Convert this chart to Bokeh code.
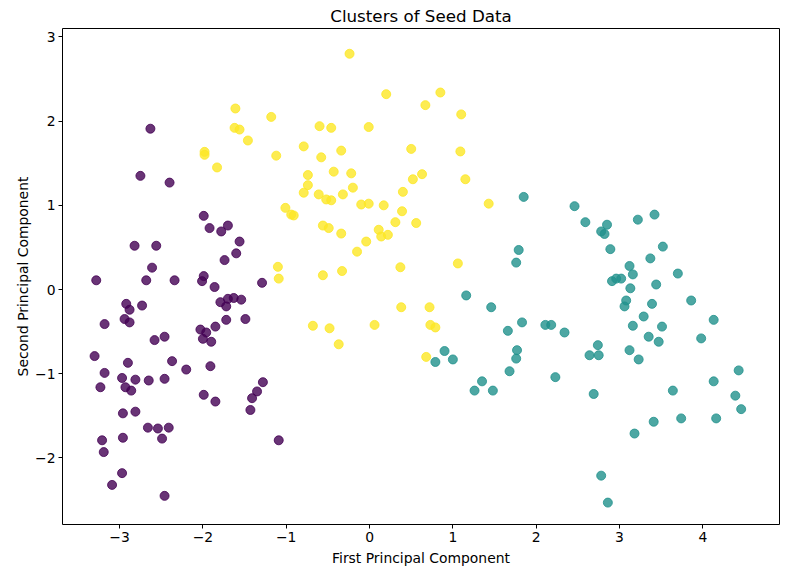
from bokeh.plotting import figure
from bokeh.models import Range1d, FixedTicker, ColumnDataSource, Spacer
from bokeh.layouts import row
from bokeh.embed import file_html
from bokeh.resources import INLINE

title_text = "Clusters of Seed Data"
x_label = "First Principal Component"
y_label = "Second Principal Component"
x_ticks = [-3, -2, -1, 0, 1, 2, 3, 4]
y_ticks = [-2, -1, 0, 1, 2, 3]

cluster0_x = [-2.63, -2.75, -2.40, -1.99, -1.92, -1.70, -1.78, -1.56, -1.60, -1.74,
              -2.82, -2.56, -2.61, -3.28, -2.68, -2.34, -1.99, -2.01, -1.86, -1.29,
              -2.92, -2.73, -1.79, -1.70, -1.63, -1.54, -1.72, -2.88, -2.94, -2.88,
              -3.18, -2.58, -2.46, -2.03, -1.96, -2.00, -1.90, -1.85, -1.72, -1.49,
              -3.30, -2.90, -2.37, -2.20, -1.91, -3.18, -2.97, -2.81, -2.65, -2.46,
              -3.23, -2.93, -2.86, -1.99, -1.85, -1.28, -1.35, -1.41, -1.43, -2.96,
              -2.81, -2.66, -2.54, -2.41, -2.49, -3.21, -3.19, -2.96, -2.97, -3.09,
              -2.46, -1.09]
cluster0_y = [1.91, 1.35, 1.27, 0.875, 0.73, 0.76, 0.69, 0.57, 0.43, 0.35,
              0.52, 0.52, 0.26, 0.11, 0.11, 0.11, 0.16, 0.10, 0.03, 0.08,
              -0.17, -0.19, -0.15, -0.11, -0.10, -0.12, -0.20, -0.24, -0.35, -0.39,
              -0.41, -0.60, -0.56, -0.475, -0.51, -0.585, -0.62, -0.44, -0.36, -0.35,
              -0.79, -0.87, -0.85, -0.95, -0.91, -0.99, -1.05, -1.07, -1.08, -1.06,
              -1.16, -1.16, -1.20, -1.25, -1.33, -1.10, -1.21, -1.29, -1.43, -1.47,
              -1.45, -1.64, -1.65, -1.64, -1.77, -1.79, -1.93, -1.76, -2.18, -2.32,
              -2.45, -1.79]

cluster1_x = [1.85, 2.46, 2.59, 2.85, 2.78, 2.82, 2.89, 1.79, 1.76, 2.91,
              2.96, 3.02, 1.16, 1.46, 1.83, 1.66, 2.11, 2.18, 2.34, 0.90,
              0.79, 1.00, 1.77, 1.76, 2.74, 2.64, 2.75, 1.68, 2.23, 1.35,
              1.26, 1.48, 2.69, 3.22, 3.42, 3.52, 3.37, 3.12, 3.16, 3.70,
              3.13, 3.44, 3.08, 3.06, 3.39, 3.86, 3.29, 3.16, 3.51, 4.13,
              3.35, 3.47, 3.98, 3.12, 3.23, 4.43, 4.13, 3.64, 4.39, 4.46,
              3.41, 3.74, 4.16, 3.18, 2.78, 2.86]
cluster1_y = [1.10, 0.99, 0.80, 0.77, 0.69, 0.66, 0.48, 0.47, 0.32, 0.10,
              0.13, 0.13, -0.07, -0.21, -0.39, -0.49, -0.42, -0.42, -0.51, -0.73,
              -0.86, -0.83, -0.72, -0.82, -0.66, -0.78, -0.78, -0.97, -1.04, -1.09,
              -1.20, -1.20, -1.24, 0.83, 0.89, 0.51, 0.37, 0.28, 0.18, 0.19,
              0.015, 0.06, -0.13, -0.20, -0.17, -0.13, -0.32, -0.43, -0.44, -0.36,
              -0.56, -0.62, -0.58, -0.72, -0.83, -0.96, -1.09, -1.20, -1.26, -1.42,
              -1.57, -1.53, -1.53, -1.71, -2.21, -2.53]

cluster2_x = [-0.24, -1.61, -1.18, -1.62, -1.56, -1.46, -0.60, -0.46, -0.01, -1.98,
              -1.98, -1.83, -1.12, -0.79, -0.58, -0.34, -0.74, -0.74, -0.79, -0.43,
              -0.22, -0.20, -0.32, -0.61, -0.52, -0.46, -0.10, -0.01, -1.01, -0.94,
              -0.91, -0.56, -0.49, 0.20, 0.85, 0.67, 1.10, 0.50, 1.09, 0.52,
              0.63, 1.15, 0.40, 0.17, 1.43, 0.39, 0.31, 0.56, 0.11, 0.14,
              0.22, -0.34, -0.04, -0.15, 1.06, -1.10, -1.09, -0.56, -0.33, 0.37,
              0.38, 0.72, 0.73, 0.79, -0.68, -0.48, 0.06, -0.37, 0.68]
cluster2_y = [2.80, 2.15, 2.05, 1.92, 1.90, 1.77, 1.94, 1.92, 1.93, 1.635,
              1.60, 1.45, 1.59, 1.70, 1.57, 1.65, 1.36, 1.24, 1.15, 1.40,
              1.38, 1.21, 1.13, 1.13, 1.07, 1.06, 1.01, 1.02, 0.97, 0.89,
              0.88, 0.76, 0.73, 2.32, 2.34, 2.19, 2.08, 1.67, 1.64, 1.31,
              1.37, 1.31, 1.16, 1.00, 1.02, 0.93, 0.80, 0.79, 0.71, 0.63,
              0.65, 0.665, 0.57, 0.45, 0.31, 0.27, 0.13, 0.17, 0.22, 0.265,
              -0.21, -0.21, -0.42, -0.45, -0.43, -0.46, -0.42, -0.65, -0.80]

colors = ["#440154", "#21918c", "#fde725"]
FONT = "DejaVu Sans"

p = figure(frame_width=717, frame_height=496,
           min_border_left=48, min_border_right=7, min_border_top=10, min_border_bottom=30,
           output_backend="svg", toolbar_location=None,
           x_range=Range1d(-3.685, 4.92), y_range=Range1d(-2.79, 3.10))

p.title.text = title_text
p.title.align = "center"
p.title.text_font = FONT
p.title.text_font_size = "16.7px"
p.title.text_font_style = "normal"
p.title.text_color = "black"
p.title.standoff = 6

for xs, ys, c in [(cluster0_x, cluster0_y, colors[0]),
                  (cluster1_x, cluster1_y, colors[1]),
                  (cluster2_x, cluster2_y, colors[2])]:
    src = ColumnDataSource(dict(x=xs, y=ys))
    p.scatter("x", "y", source=src, size=9, fill_color=c, line_color=c,
              fill_alpha=0.8, line_alpha=0.8)

p.xgrid.visible = False
p.ygrid.visible = False
p.outline_line_color = "black"
p.outline_line_width = 1
p.outline_line_alpha = 1

p.xaxis.ticker = FixedTicker(ticks=x_ticks)
p.yaxis.ticker = FixedTicker(ticks=y_ticks)
p.xaxis.major_label_overrides = {t: str(t).replace("-", "\u2212") for t in x_ticks}
p.yaxis.major_label_overrides = {t: str(t).replace("-", "\u2212") for t in y_ticks}
p.xaxis.axis_label = x_label
p.yaxis.axis_label = y_label

for ax in [p.xaxis[0], p.yaxis[0]]:
    ax.axis_line_color = None
    ax.major_tick_line_color = "black"
    ax.major_tick_out = 4
    ax.major_tick_in = 0
    ax.minor_tick_line_color = None
    ax.major_label_text_font = FONT
    ax.major_label_text_font_size = "13.9px"
    ax.major_label_text_color = "black"
    ax.major_label_standoff = 3
    ax.axis_label_text_font = FONT
    ax.axis_label_text_font_size = "13.9px"
    ax.axis_label_text_font_style = "normal"
    ax.axis_label_text_color = "black"

p.xaxis[0].axis_label_standoff = 5
p.yaxis[0].axis_label_standoff = 1

layout = row(Spacer(width=12, height=10), p)

open("out.html", "w").write(file_html(layout, INLINE))
